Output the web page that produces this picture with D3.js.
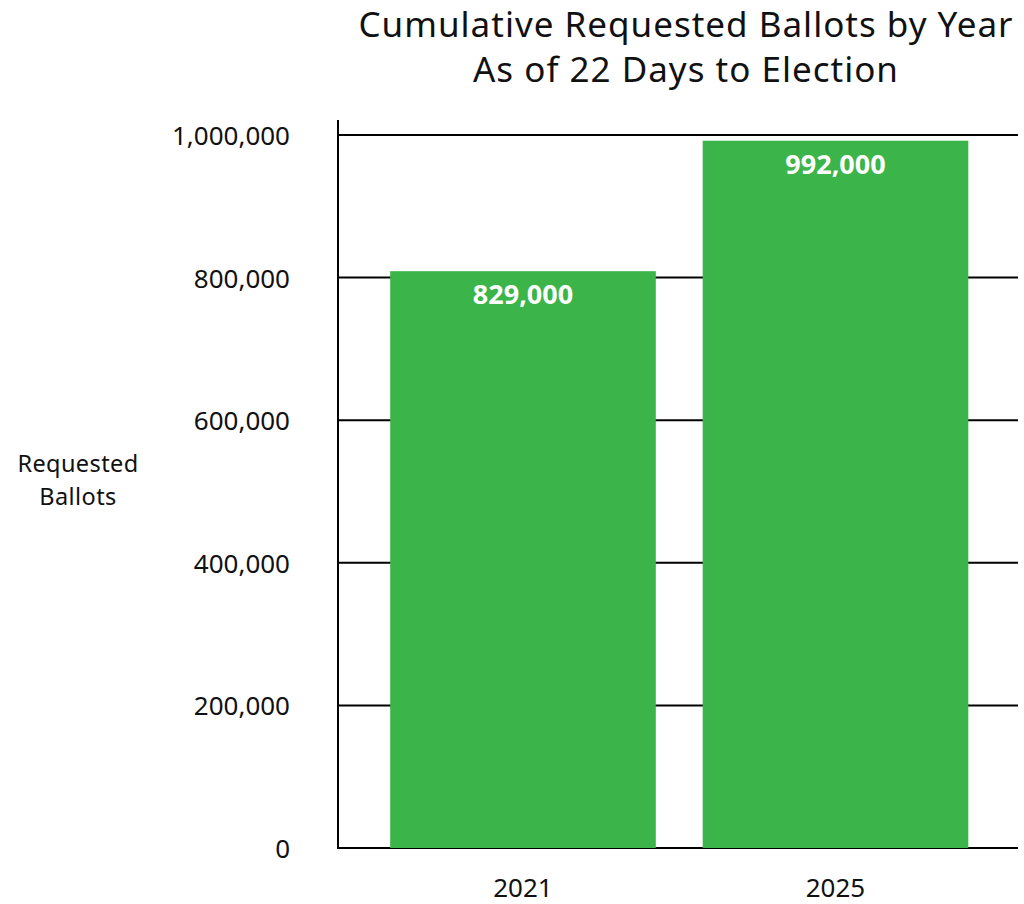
<!DOCTYPE html>
<html><head><meta charset="utf-8">
<script src="https://cdn.jsdelivr.net/npm/d3@7"></script>
<style>body{margin:0;background:#fff;} svg{display:block;} text{font-family:"Noto Sans",sans-serif;}</style>
</head><body>
<svg id="c" width="1024" height="904"></svg>
<script>
const categories = ["2021", "2025"];
const values = [809000, 992000];
const valueLabels = ["829,000", "992,000"];
const yTicks = [0, 200000, 400000, 600000, 800000, 1000000];
const titleLines = ["Cumulative Requested Ballots by Year", "As of 22 Days to Election"];
const yTitle = ["Requested", "Ballots"];

const svg = d3.select("#c");
const y = d3.scaleLinear().domain([0, 1000000]).range([848, 135]);
const x = d3.scaleBand().domain(categories).range([366.75, 991.75]).paddingInner(0.15).paddingOuter(0.075);
const fmt = d3.format(",");

// gridlines
svg.append("g").selectAll("line").data(yTicks).join("line")
  .attr("x1", 338).attr("x2", 1018)
  .attr("y1", d => y(d)).attr("y2", d => y(d))
  .attr("stroke", "#000").attr("stroke-width", 2);

// bars
svg.append("g").selectAll("rect").data(values).join("rect")
  .attr("x", (d, i) => x(categories[i]))
  .attr("width", x.bandwidth())
  .attr("y", d => y(d))
  .attr("height", d => y(0) - y(d))
  .attr("fill", "#3bb54a");

// y axis line
svg.append("line").attr("x1", 338).attr("x2", 338).attr("y1", 120).attr("y2", 849)
  .attr("stroke", "#000").attr("stroke-width", 2);

// value labels
svg.append("g").selectAll("text").data(values).join("text")
  .attr("x", (d, i) => x(categories[i]) + x.bandwidth() / 2)
  .attr("y", d => y(d) + 33)
  .attr("text-anchor", "middle").attr("fill", "#fff")
  .attr("font-size", 27).attr("font-weight", "bold")
  .text((d, i) => valueLabels[i]);

// y tick labels
svg.append("g").selectAll("text").data(yTicks).join("text")
  .attr("x", 290).attr("y", d => y(d) + 10)
  .attr("text-anchor", "end").attr("font-size", 26).attr("fill", "#111")
  .text(d => fmt(d));

// x labels
svg.append("g").selectAll("text").data(categories).join("text")
  .attr("x", d => x(d) + x.bandwidth() / 2).attr("y", 897)
  .attr("text-anchor", "middle").attr("font-size", 26).attr("fill", "#111")
  .text(d => d);

// y title
svg.append("g").selectAll("text").data(yTitle).join("text")
  .attr("x", 78).attr("y", (d, i) => 472 + i * 32.5)
  .attr("text-anchor", "middle").attr("font-size", 23.5).attr("letter-spacing", 0.4).attr("fill", "#111")
  .text(d => d);

// title
svg.append("g").selectAll("text").data(titleLines).join("text")
  .attr("x", 686).attr("y", (d, i) => 37 + i * 45)
  .attr("text-anchor", "middle").attr("font-size", 35).attr("letter-spacing", 1).attr("fill", "#111")
  .text(d => d);
</script>
</body></html>
